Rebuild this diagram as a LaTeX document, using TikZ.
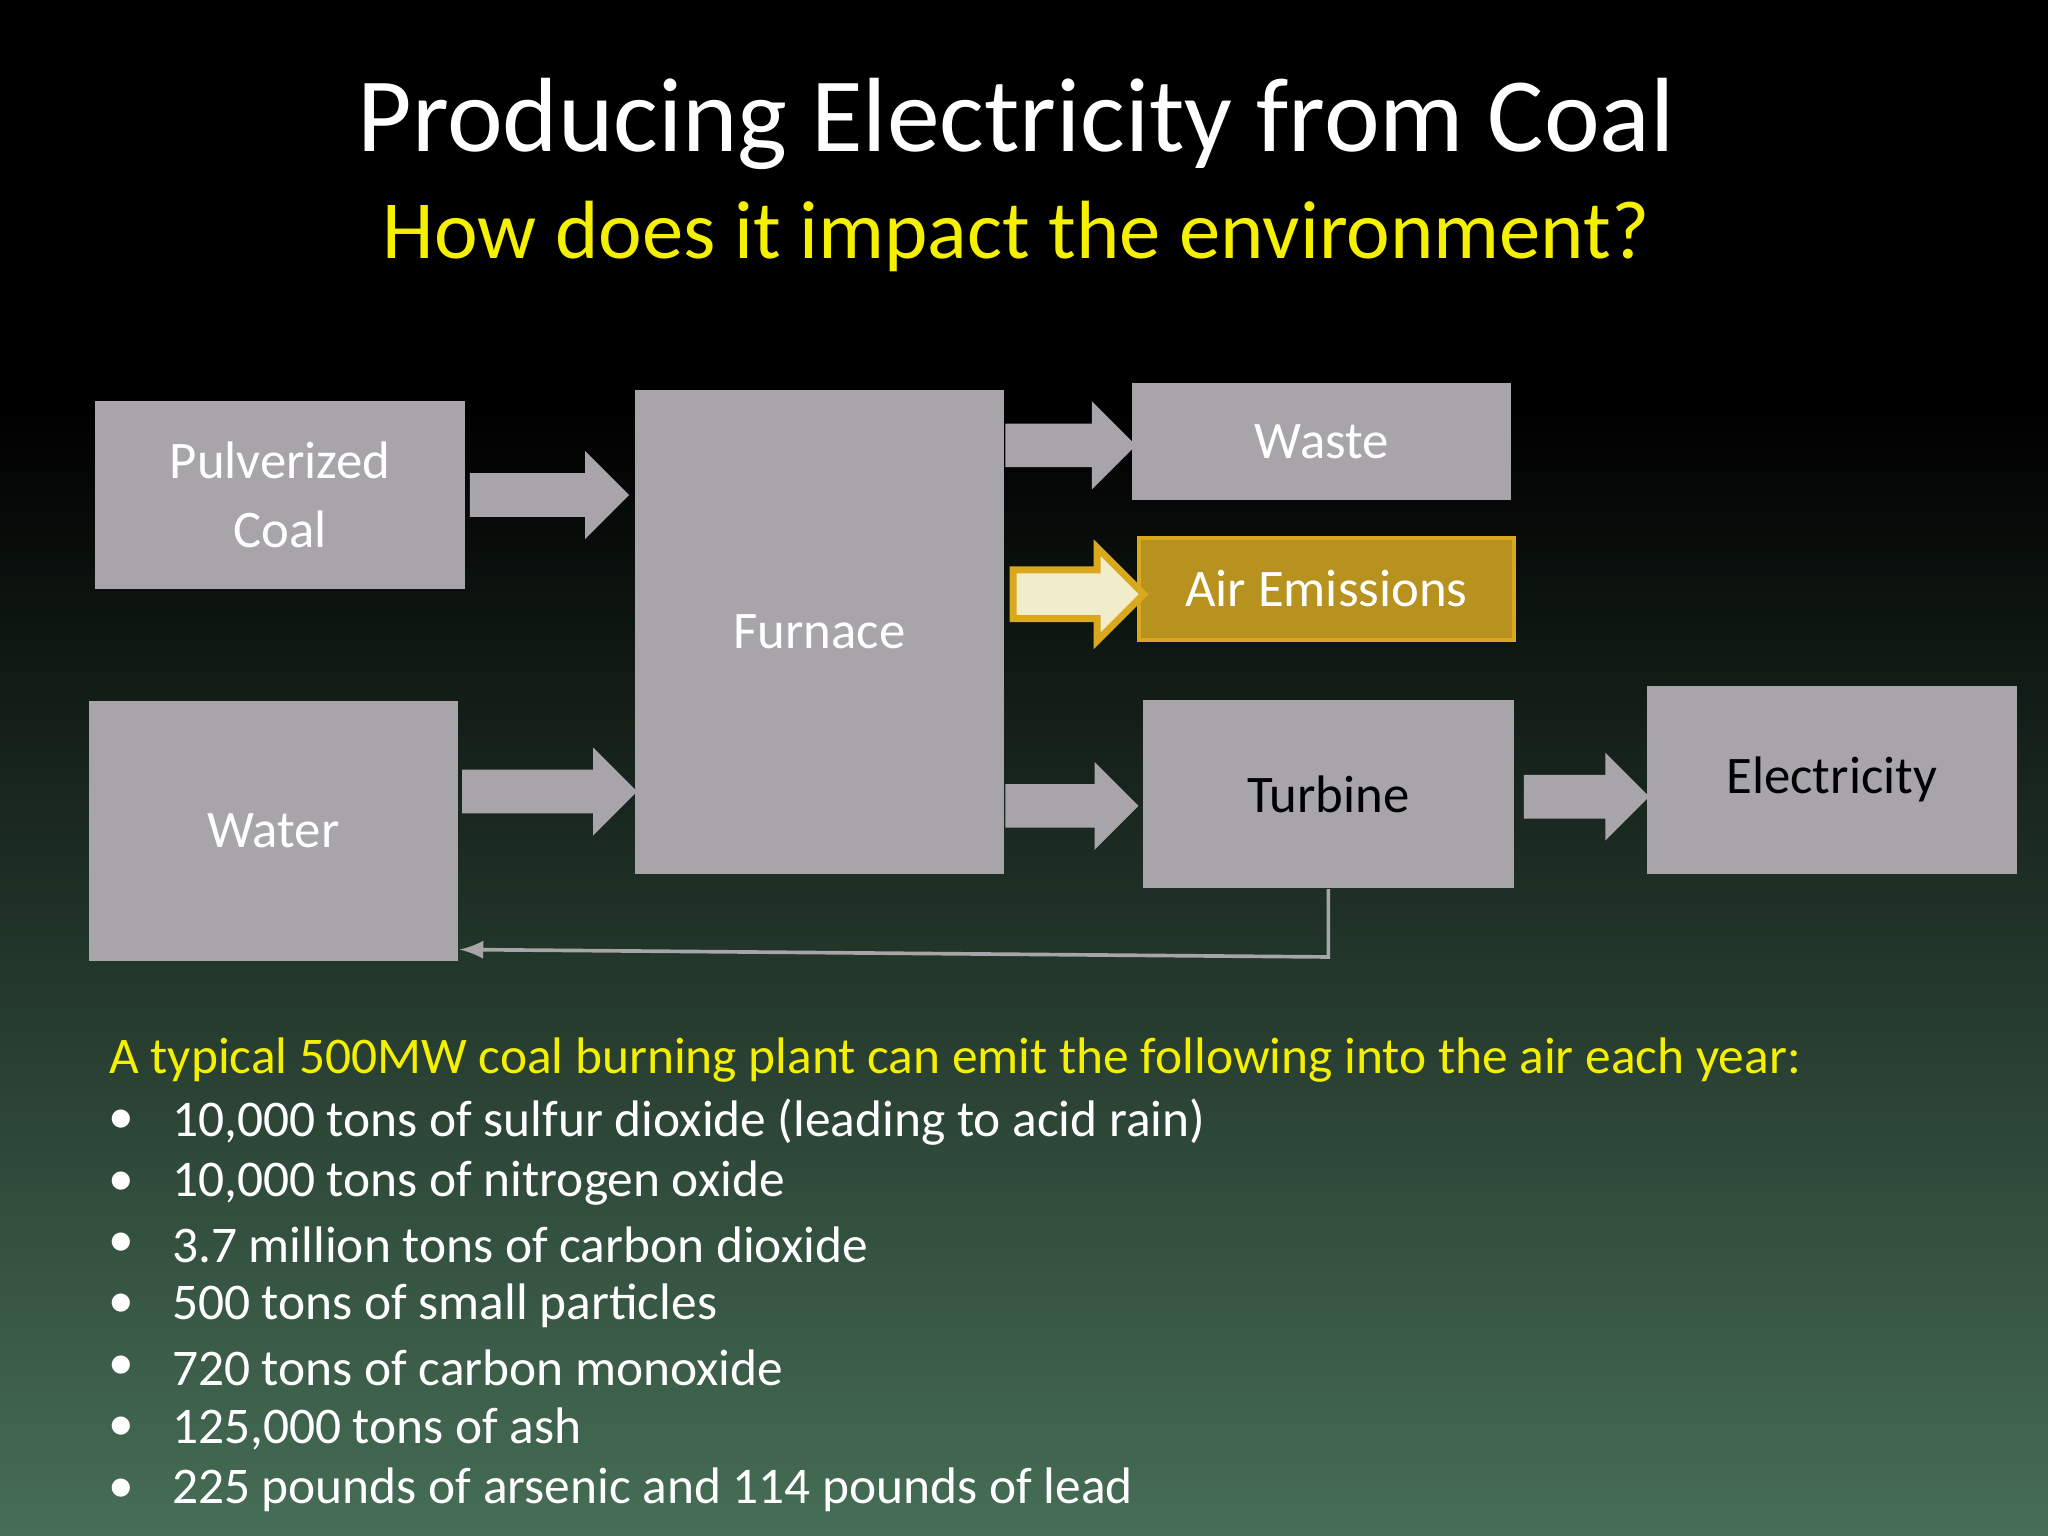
\documentclass[tikz,border=0pt]{standalone}
\usepackage{fontspec}
\setmainfont{Carlito}
\usetikzlibrary{shapes.arrows,positioning}
\definecolor{boxgray}{HTML}{A7A5A9}
\definecolor{gold}{HTML}{B8921E}
\definecolor{golddark}{HTML}{D9A81C}
\definecolor{cream}{HTML}{F1EDCB}
\definecolor{titleyellow}{HTML}{F5F000}
\definecolor{bggreen}{HTML}{466E56}
\begin{document}
\begin{tikzpicture}[x=1cm,y=1cm,
	block/.style={fill=boxgray,inner sep=0pt,align=center,text=white,font=\fontsize{11.5}{14}\selectfont},
	flow/.style={single arrow,fill=boxgray,inner xsep=0pt,inner ysep=.16cm,minimum width=.66cm,single arrow head extend=.17cm,anchor=west},
	bullet/.style={anchor=west,text=white,font=\fontsize{11.2}{13}\selectfont,inner sep=0pt}]
	% background
	\useasboundingbox (0,0) rectangle (15.68,11.76);
	\fill[black] (0,11.76) rectangle (15.68,8.6);
	\shade[top color=black,bottom color=black!75!bggreen] (0,8.61) rectangle (15.68,6.5);
	\shade[top color=black!75!bggreen,bottom color=bggreen] (0,6.51) rectangle (15.68,0);

	% titles
	\node[text=white,font=\fontsize{23}{26}\selectfont] (title) at (7.78,10.81) {Producing Electricity from Coal};
	\node[text=titleyellow,font=\fontsize{18}{22}\selectfont] (subtitle) at (7.78,9.95) {How does it impact the environment?};

	% boxes
	\node[block,minimum width=2.83cm,minimum height=1.44cm] (coal) at (2.145,7.97) {Pulverized\\[1pt]Coal};
	\node[block,minimum width=2.83cm,minimum height=3.70cm] (furnace) at (6.275,6.92) {Furnace};
	\node[block,minimum width=2.90cm,minimum height=.90cm] (waste) at (10.12,8.38) {Waste};
	\node[block,fill=gold,draw=golddark,line width=1pt,minimum width=2.87cm,minimum height=.78cm] (air) at (10.155,7.25) {Air Emissions};
	\node[block,text=black,minimum width=2.84cm,minimum height=1.44cm] (turbine) at (10.17,5.68) {Turbine};
	\node[block,text=black,minimum width=2.83cm,minimum height=1.44cm] (elec) at (14.025,5.79) {Electricity};
	\node[block,minimum width=2.83cm,minimum height=1.99cm] (water) at (2.095,5.40) {Water};

	% flow arrows
	\node[flow,minimum height=1.22cm] (a1) at (3.59,7.97) {};
	\node[flow,minimum height=1.34cm] (a2) at (3.53,5.70) {};
	\node[flow,minimum height=1.00cm] (a3) at (7.69,8.35) {};
	\node[flow,fill=cream,draw=golddark,line width=1.5pt,minimum height=1.00cm] (a4) at (7.73,7.21) {};
	\node[flow,minimum height=1.02cm] (a5) at (7.69,5.59) {};
	\node[flow,minimum height=.96cm] (a6) at (11.66,5.66) {};

	% return line
	\draw[boxgray,line width=.8pt,-latex] (turbine.south) -- ++(0,-.52) -- (water.east |- 0,4.49);

	% notes
	\node[anchor=west,text=titleyellow,font=\fontsize{11.2}{13}\selectfont,inner sep=0pt] (note) at (.83,3.64) {A typical 500MW coal burning plant can emit the following into the air each year:};
	\foreach \t [count=\i] in {{10,000 tons of sulfur dioxide (leading to acid rain)},
		{10,000 tons of nitrogen oxide},
		{3.7 million tons of carbon dioxide},
		{500 tons of small particles},
		{720 tons of carbon monoxide},
		{125,000 tons of ash},
		{225 pounds of arsenic and 114 pounds of lead}}{
		\node[bullet] (dot\i) at (.82,{3.64-.47*\i}) {•};
		\node[bullet] (item\i) at (1.31,{3.64-.47*\i}) {\t};
	}
\end{tikzpicture}
\end{document}
